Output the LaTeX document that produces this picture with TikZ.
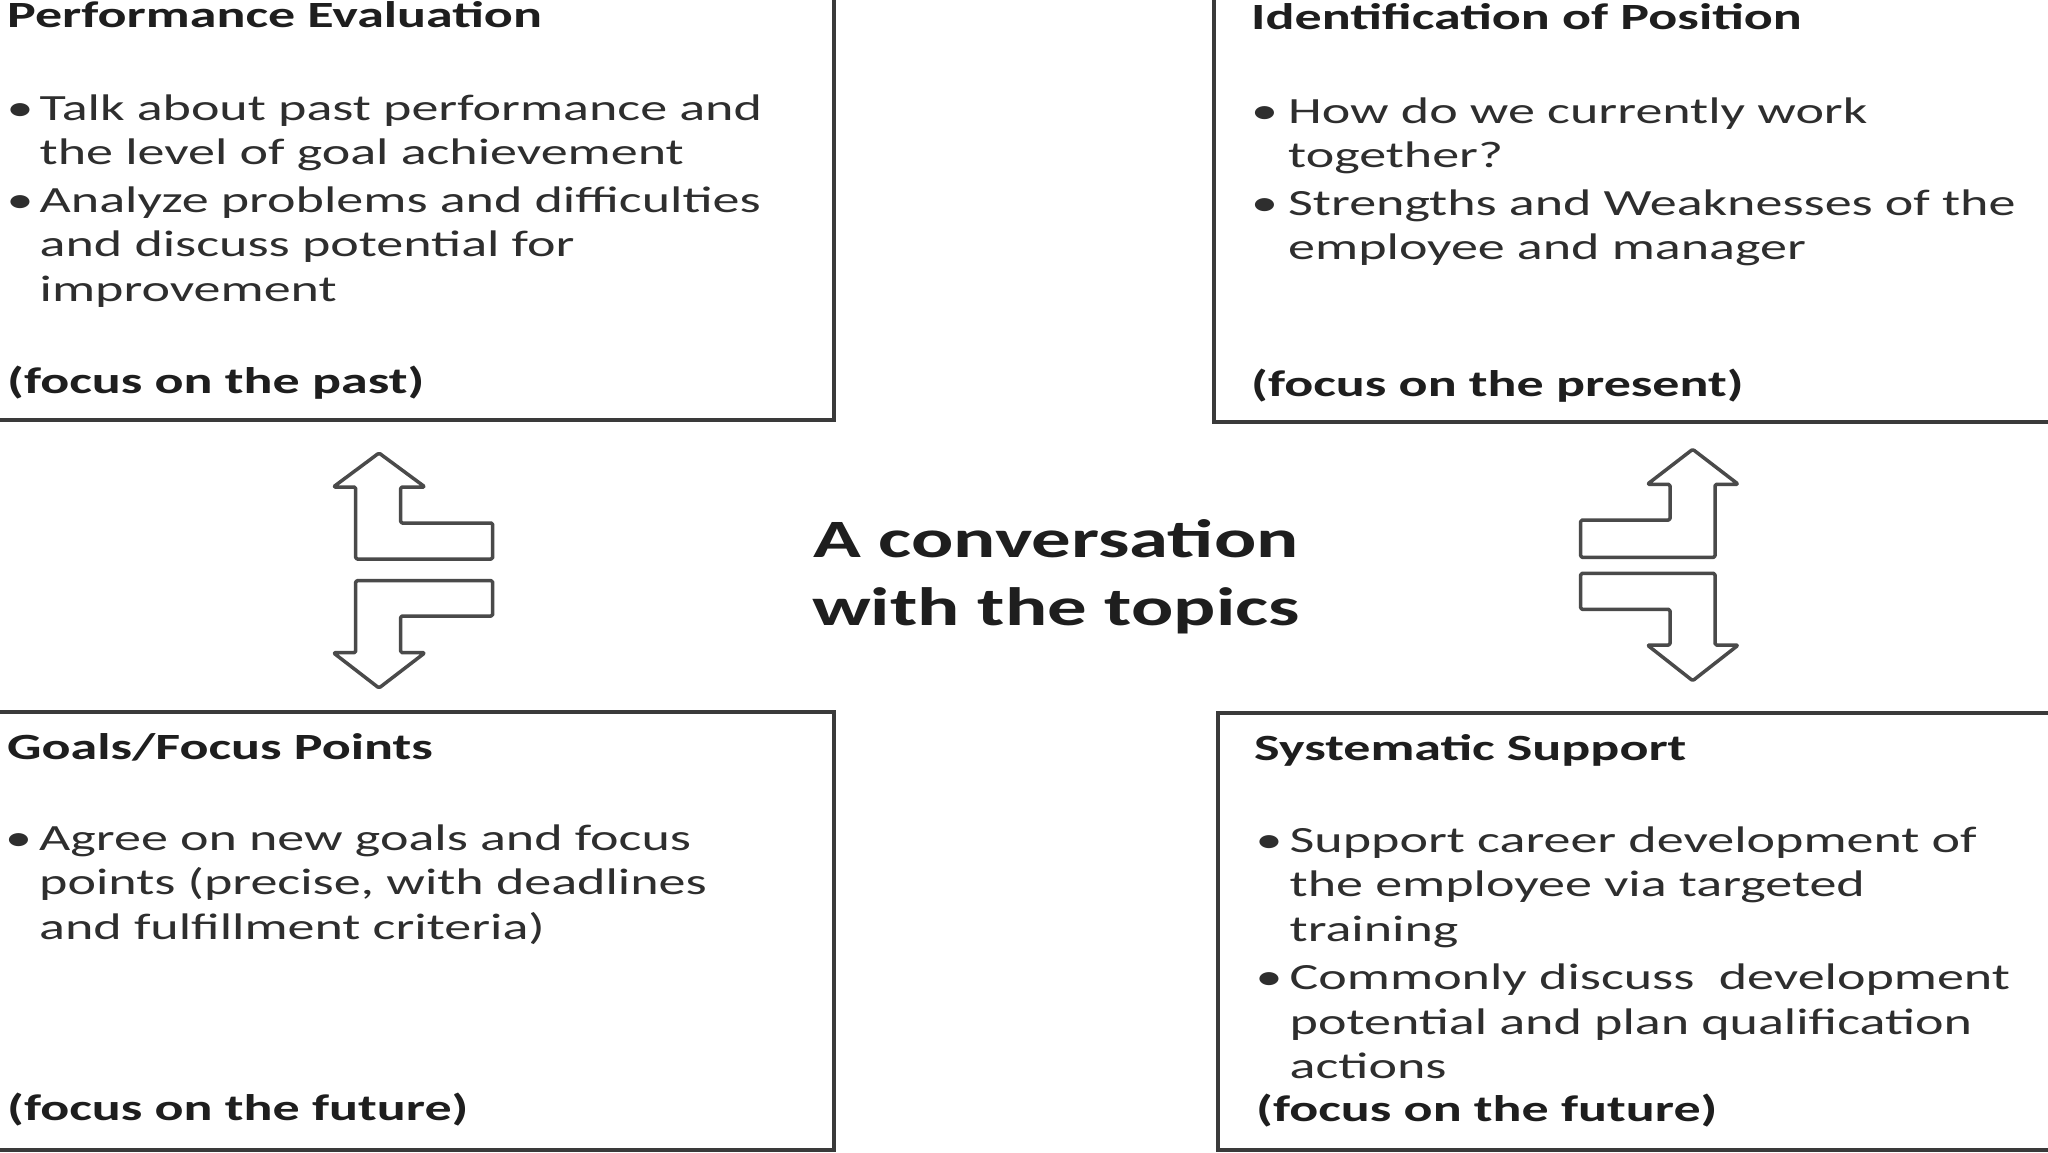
\documentclass[tikz,border=0pt]{standalone}
\usepackage{fontspec}
\setmainfont{Carlito}[FakeStretch=1.46]
\usetikzlibrary{calc}
\definecolor{boxline}{HTML}{3A3A3A}
\definecolor{txtdark}{HTML}{1E1E1E}
\definecolor{txtbody}{HTML}{2E2E2E}
\definecolor{arrowline}{HTML}{4A4A4A}
\newcommand{\bul}[1][33pt]{\makebox[#1][l]{\textbullet}}
\begin{document}
\begin{tikzpicture}[x=1pt,y=-1pt,
  panel/.style={draw=boxline, line width=3.5pt, fill=white, minimum width=864pt, anchor=north west, inner sep=0pt},
  head/.style={anchor=base west, inner sep=0pt, text=txtdark, font=\fontsize{37}{44.5}\selectfont\bfseries},
  body/.style={anchor=base west, inner sep=0pt, text=txtbody, font=\fontsize{37}{44.5}\selectfont},
  topic/.style={anchor=base, inner sep=0pt, text=txtdark, font=\fontsize{54}{68}\selectfont\bfseries},
  bentarrow/.style={draw=arrowline, line width=3.5pt, fill=white, line join=round, rounded corners=1.5pt}]
\useasboundingbox (0,0) rectangle (2048,1152);
\clip (0,0) rectangle (2048,1152);
\fill[white] (0,0) rectangle (2048,1152);

% panels
\node[panel, minimum height=440pt] (pe) at (-32,-22) {};
\node[panel, minimum height=440pt] (ip) at (1212,-20) {};
\node[panel, minimum height=438pt] (gf) at (-32,710) {};
\node[panel, minimum height=437pt] (ss) at (1216,711) {};

% Performance Evaluation
\node[head] (peh) at ($(pe.north west)+(39,49)$) {Performance Evaluation};
\node[body] (peb) at ($(pe.north west)+(38.5,142)$) {\begin{tabular}[t]{@{}l@{}l@{}}
\bul[33pt] & Talk about past performance and\\
 & the level of goal achievement\\[3pt]
\bul[33pt] & Analyze problems and difficulties\\
 & and discuss potential for\\
 & improvement
\end{tabular}};
\node[head] (pef) at ($(pe.south west)+(39,-28)$) {(focus on the past)};

% Identification of Position
\node[head] (iph) at ($(ip.north west)+(39,49)$) {Identification of Position};
\node[body] (ipb) at ($(ip.north west)+(39,143)$) {\begin{tabular}[t]{@{}l@{}l@{}}
\bul[37pt] & How do we currently work\\
 & together?\\[3pt]
\bul[37pt] & Strengths and Weaknesses of the\\
 & employee and manager
\end{tabular}};
\node[head] (ipf) at ($(ip.south west)+(39,-27)$) {(focus on the present)};

% Goals/Focus Points
\node[head] (gfh) at ($(gf.north west)+(39,49)$) {Goals/Focus Points};
\node[body] (gfb) at ($(gf.north west)+(37,140)$) {\begin{tabular}[t]{@{}l@{}l@{}}
\bul[34pt] & Agree on new goals and focus\\
 & points (precise, with deadlines\\
 & and fulfillment criteria)
\end{tabular}};
\node[head] (gff) at ($(gf.south west)+(39,-31)$) {(focus on the future)};

% Systematic Support
\node[head] (ssh) at ($(ss.north west)+(38,49)$) {Systematic Support};
\node[body] (ssb) at ($(ss.north west)+(39.5,141)$) {\begin{tabular}[t]{@{}l@{}l@{}}
\bul[34pt] & Support career development of\\
 & the employee via targeted\\
 & training\\[4pt]
\bul[34pt] & Commonly discuss\ \ development\\
 & potential and plan qualification\\
 & actions
\end{tabular}};
\node[head] (ssf) at ($(ss.south west)+(40,-30)$) {(focus on the future)};

% centre text
\node[topic] (conv) at (1056,557) {\begin{tabular}[t]{@{}c@{}}A conversation\\with the topics\end{tabular}};

% left bent arrows
\draw[bentarrow] (379,453) -- (425,487) -- (400.7,487) -- (400.7,523) -- (492.7,523)
  -- (492.7,559) -- (355.7,559) -- (355.7,487) -- (333.3,487) -- cycle;
\draw[bentarrow] (355.7,580.7) -- (492.7,580.7) -- (492.7,616) -- (400.7,616)
  -- (400.7,652.7) -- (425,652.7) -- (379,688) -- (333.3,652.7) -- (355.7,652.7) -- cycle;

% right bent arrows
\draw[bentarrow] (1692.7,449.3) -- (1738.3,484.3) -- (1715,484.3) -- (1715,557.3)
  -- (1580.7,557.3) -- (1580.7,520) -- (1670,520) -- (1670,484.3) -- (1647.3,484.3) -- cycle;
\draw[bentarrow] (1580.7,573.3) -- (1715,573.3) -- (1715,645) -- (1738.3,645)
  -- (1692.7,680.7) -- (1647.3,645) -- (1670,645) -- (1670,609.3) -- (1580.7,609.3) -- cycle;
\end{tikzpicture}
\end{document}
